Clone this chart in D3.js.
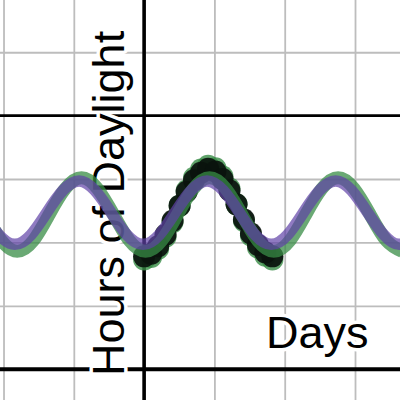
<!DOCTYPE html>
<html>
<head>
<meta charset="utf-8">
<script src="https://cdn.jsdelivr.net/npm/d3@7"></script>
<style>
  body { margin: 0; background: #fff; }
  svg { display: block; }
</style>
</head>
<body>
<svg width="400" height="400"></svg>
<script>
// grid ticks
const dayTicks = [-400, -200, 0, 200, 400, 600];
const hourTicks = [0, 5, 10, 15, 20, 25];
const refLine = 20; // horizontal black line

// observed hours of daylight, about every three weeks (dots)
const obsDays = [0, 20, 40, 61, 81, 101, 121, 142, 162, 182, 203, 223, 243, 263, 284, 304, 324, 345, 365];
const obsHours = [8.9, 9.1, 9.7, 10.6, 11.7, 12.9, 14.0, 14.9, 15.5, 15.8, 15.6, 15.0, 14.1, 13.0, 11.8, 10.7, 9.8, 9.2, 8.9];
// green points peeking out behind the black ones
const obsHours2 = [8.65, 8.85, 9.5, 10.45, 11.6, 12.9, 14.1, 15.1, 15.75, 16.05, 15.85, 15.2, 14.25, 13.0, 11.7, 10.55, 9.6, 8.95, 8.65];

// green model curve, read at eighth-period steps
const greenDays = [-452, -406, -361, -315, -270, -224, -178, -133, -87, -42, 4, 50, 95, 141, 186,
  232, 278, 323, 369, 415, 460, 506, 552, 597, 643, 689, 734];
const greenHours = [12.2, 10.15, 9.3, 10.15, 12.2, 14.25, 15.1, 14.25, 12.2, 10.15, 9.3, 10.15, 12.2, 14.25, 15.1,
  14.25, 12.2, 10.15, 9.3, 10.15, 12.2, 14.25, 15.1, 14.25, 12.2, 10.15, 9.3];

// purple model curve
const purpleDays = [-459, -413, -368, -322, -277, -231, -185, -140, -94, -49, -3, 43, 88, 134, 179,
  225, 271, 316, 362, 408, 453, 499, 545, 590, 636, 682, 727, 773];
const purpleHours = [12.35, 10.6, 9.85, 10.6, 12.35, 14.1, 14.85, 14.1, 12.35, 10.6, 9.85, 10.6, 12.35, 14.1, 14.85,
  14.1, 12.35, 10.6, 9.85, 10.6, 12.35, 14.1, 14.85, 14.1, 12.35, 10.6, 9.85, 10.6];

const W = 400, H = 400;
const svg = d3.select("svg");

const x = d3.scaleLinear().domain([-410, 728]).range([0, W]);
const y = d3.scaleLinear().domain([-2.43, 29.12]).range([H, 0]);

// grid
const gx = svg.append("g")
  .call(d3.axisBottom(x).tickValues(dayTicks).tickSize(H).tickFormat(""));
const gy = svg.append("g")
  .call(d3.axisRight(y).tickValues(hourTicks).tickSize(W).tickFormat(""));
[gx, gy].forEach(g => {
  g.select(".domain").remove();
  g.selectAll(".tick line").attr("stroke", "#bdbdbd").attr("stroke-width", 1.8);
});

// axes and reference line
svg.append("line")
  .attr("x1", 0).attr("x2", W)
  .attr("y1", y(refLine)).attr("y2", y(refLine))
  .attr("stroke", "#000").attr("stroke-width", 2.6);
svg.append("line")
  .attr("x1", 0).attr("x2", W)
  .attr("y1", y(0)).attr("y2", y(0))
  .attr("stroke", "#000").attr("stroke-width", 4);
svg.append("line")
  .attr("x1", x(0)).attr("x2", x(0))
  .attr("y1", 0).attr("y2", H)
  .attr("stroke", "#000").attr("stroke-width", 3.6);

// labels with white halo
const font = "'Liberation Sans', Arial, Helvetica, sans-serif";
svg.append("text")
  .attr("transform", "translate(124,376) rotate(-90)")
  .attr("font-family", font).attr("font-size", 45)
  .attr("fill", "#000")
  .attr("stroke", "#fff").attr("stroke-width", 7).attr("stroke-linejoin", "round")
  .attr("paint-order", "stroke")
  .text("Hours of Daylight");
svg.append("text")
  .attr("x", 266).attr("y", 348)
  .attr("font-family", font).attr("font-size", 45)
  .attr("fill", "#000")
  .attr("stroke", "#fff").attr("stroke-width", 7).attr("stroke-linejoin", "round")
  .attr("paint-order", "stroke")
  .text("Days");

// dots: green set first, black on top
svg.append("g").selectAll("circle")
  .data(obsDays.map((d, i) => ({ d, h: obsHours2[i] })))
  .join("circle")
  .attr("cx", p => x(p.d))
  .attr("cy", p => y(p.h))
  .attr("r", 11)
  .attr("fill", "#388c46")
  .attr("fill-opacity", 0.8);

svg.append("g").selectAll("circle")
  .data(obsDays.map((d, i) => ({ d, h: obsHours[i] })))
  .join("circle")
  .attr("cx", p => x(p.d))
  .attr("cy", p => y(p.h))
  .attr("r", 11)
  .attr("fill", "#0a120d")
  .attr("fill-opacity", 0.92);

const line = d3.line()
  .x(p => x(p[0]))
  .y(p => y(p[1]))
  .curve(d3.curveNatural);

svg.append("path")
  .datum(greenDays.map((d, i) => [d, greenHours[i]]))
  .attr("d", line)
  .attr("fill", "none")
  .attr("stroke", "#388c46")
  .attr("stroke-opacity", 0.75)
  .attr("stroke-width", 13);

svg.append("path")
  .datum(purpleDays.map((d, i) => [d, purpleHours[i]]))
  .attr("d", line)
  .attr("fill", "none")
  .attr("stroke", "#6042a6")
  .attr("stroke-opacity", 0.7)
  .attr("stroke-width", 11.5);
</script>
</body>
</html>
